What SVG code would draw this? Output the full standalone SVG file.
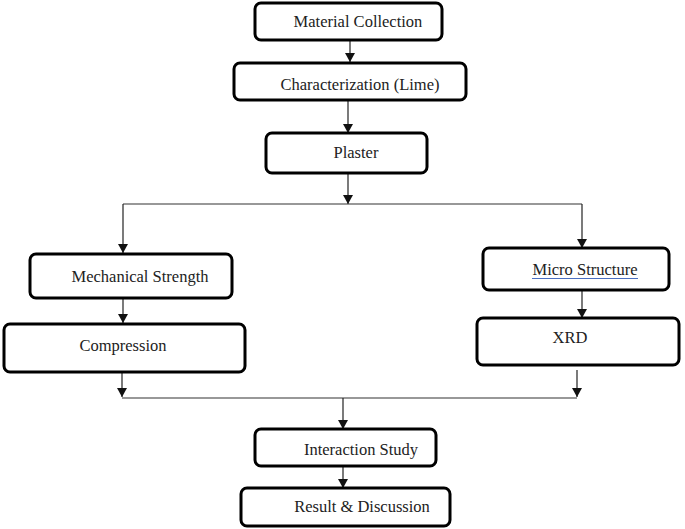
<svg xmlns="http://www.w3.org/2000/svg" width="685" height="529" viewBox="0 0 685 529">
<defs>
<marker id="ah" markerWidth="10" markerHeight="10" refX="9" refY="5" orient="auto" markerUnits="userSpaceOnUse">
<path d="M0,0 L9,5 L0,10 Z" fill="#111"/>
</marker>
<style>
.box{fill:#fff;stroke:#000;stroke-width:3}
.t{font-family:"Liberation Serif","Times New Roman",serif;font-size:16.5px;fill:#222;text-anchor:middle}
.c{fill:none;stroke:#333;stroke-width:1.2}
.a{fill:none;stroke:#222;stroke-width:1.2;marker-end:url(#ah)}
</style>
</defs>
<rect width="685" height="529" fill="#fff"/>
<g id="connectors">
<path class="a" d="M350,40 V62"/>
<path class="a" d="M348,100 V133"/>
<path class="a" d="M348,173 V204"/>
<path class="c" d="M123,204 H582"/>
<path class="a" d="M123,204 V253"/>
<path class="a" d="M582,204 V248"/>
<path class="a" d="M123,298 V323"/>
<path class="a" d="M582,290 V318"/>
<path class="a" d="M122,372 V397"/>
<path class="a" d="M577,370 V397"/>
<path class="c" d="M122,398 H577"/>
<path class="a" d="M343,398 V429"/>
<path class="a" d="M343,466 V488"/>
</g>
<g id="material">
<rect class="box" x="255" y="3" width="187" height="37" rx="6"/>
<text class="t" x="358" y="27">Material Collection</text>
</g>
<g id="characterization">
<rect class="box" x="234" y="63" width="232" height="37" rx="6"/>
<text class="t" x="360" y="90">Characterization (Lime)</text>
</g>
<g id="plaster">
<rect class="box" x="266" y="133" width="161" height="40" rx="6"/>
<text class="t" x="356" y="158">Plaster</text>
</g>
<g id="mechanical">
<rect class="box" x="30" y="254" width="202" height="44" rx="6"/>
<text class="t" x="140" y="282">Mechanical Strength</text>
</g>
<g id="compression">
<rect class="box" x="4" y="324" width="241" height="48" rx="6"/>
<text class="t" x="123" y="351">Compression</text>
</g>
<g id="micro">
<rect class="box" x="483" y="248" width="186" height="42" rx="6"/>
<text class="t" x="585" y="275">Micro Structure</text>
<line x1="532" y1="278.5" x2="638" y2="278.5" stroke="#4a6fc2" stroke-width="1.2"/>
</g>
<g id="xrd">
<rect class="box" x="477" y="318" width="202" height="47" rx="6"/>
<text class="t" x="570" y="343">XRD</text>
</g>
<g id="interaction">
<rect class="box" x="255" y="429" width="181" height="37" rx="6"/>
<text class="t" x="361" y="455">Interaction Study</text>
</g>
<g id="result">
<rect class="box" x="241" y="488" width="209" height="38" rx="6"/>
<text class="t" x="362" y="512">Result &amp; Discussion</text>
</g>
</svg>
